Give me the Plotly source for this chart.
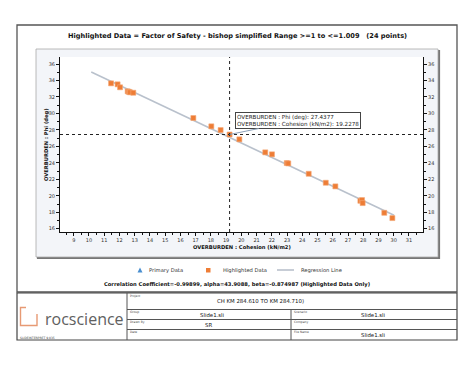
import plotly.graph_objects as go

# page body has an 8px default margin; the figure is sized to fit inside the window
OFF = 8
W, H = 474 - OFF, 366 - OFF

# ---- data ----
cohesion = [11.45, 11.88, 12.04, 12.54, 12.62, 12.69, 12.91, 16.85, 18.03, 18.64, 19.2278, 19.87,
            21.57, 22.01, 22.98, 23.08, 24.42, 25.54, 26.17, 27.81, 27.92, 27.96, 29.38, 29.91]
phi = [33.65, 33.53, 33.17, 32.68, 32.62, 32.56, 32.51, 29.44, 28.43, 27.98, 27.4377, 26.85,
       25.27, 25.03, 23.97, 23.93, 22.67, 21.58, 21.14, 19.39, 19.48, 19.11, 17.93, 17.29]
alpha, beta = 43.9088, -0.874987
reg_x = [10.15, 30.02]
sel_c, sel_phi = 19.2278, 27.4377
x_ticks = list(range(9, 32))
y_ticks = list(range(16, 37, 2))

title_txt = "Highlighted Data = Factor of Safety - bishop simplified Range >=1 to <=1.009   (24 points)"
corr_txt = "Correlation Coefficient=-0.99899, alpha=43.9088, beta=-0.874987 (Highlighted Data Only)"

FONT = "DejaVu Sans"

def px(x):
    return (x - OFF) / W

def py(y):
    return 1 - (y - OFF) / H

# plot area in window pixels
L, R, T, B = 60, 423, 57, 232

fig = go.Figure()

reg_y = [alpha + beta * v for v in reg_x]
fig.add_trace(go.Scatter(x=reg_x, y=reg_y, mode="lines",
                         line=dict(color="#b9c1cc", width=1.6), hoverinfo="skip", showlegend=False))
fig.add_trace(go.Scatter(x=cohesion, y=phi, mode="markers",
                         marker=dict(symbol="square", size=5, color="#ee7d36",
                                     line=dict(color="#f4a877", width=0.6)),
                         showlegend=False))
fig.add_trace(go.Scatter(x=[None], y=[None], yaxis="y2", showlegend=False))

shapes = []
shapes.append(dict(type="rect", xref="paper", yref="paper", x0=px(17), x1=px(457), y0=py(292), y1=py(25),
                   line=dict(color="#555555", width=1.3), fillcolor="white", layer="below"))
shapes.append(dict(type="rect", xref="paper", yref="paper", x0=px(37.5), x1=px(439.5), y0=py(258.5), y1=py(50.5),
                   line=dict(color="#777777", width=1.2), fillcolor="#777777", layer="below"))
shapes.append(dict(type="rect", xref="paper", yref="paper", x0=px(36), x1=px(438), y0=py(257), y1=py(49),
                   line=dict(color="#a8a8a8", width=0.8), fillcolor="#f3f5f9", layer="below"))
shapes.append(dict(type="rect", xref="paper", yref="paper", x0=px(L), x1=px(R), y0=py(B), y1=py(T),
                   line=dict(width=0), fillcolor="white", layer="below"))
shapes.append(dict(type="line", xref="x", yref="paper", x0=sel_c, x1=sel_c, y0=py(B), y1=py(T),
                   line=dict(color="#222222", width=1, dash="dot")))
shapes.append(dict(type="line", xref="paper", yref="y", x0=px(L), x1=px(R), y0=sel_phi, y1=sel_phi,
                   line=dict(color="#222222", width=1, dash="dot")))

# legend symbols
shapes.append(dict(type="path", xref="paper", yref="paper",
                   path=f"M {px(137.5)} {py(272.5)} L {px(142.5)} {py(272.5)} L {px(140)} {py(267.5)} Z",
                   fillcolor="#4a8fd0", line=dict(width=0)))
shapes.append(dict(type="rect", xref="paper", yref="paper", x0=px(206), x1=px(210.5), y0=py(272.5), y1=py(268),
                   fillcolor="#ee7d36", line=dict(width=0)))
shapes.append(dict(type="line", xref="paper", yref="paper", x0=px(277), x1=px(294), y0=py(270), y1=py(270),
                   line=dict(color="#b9c1cc", width=1.6)))

# footer table
tl = dict(color="#555555", width=1)
shapes.append(dict(type="rect", xref="paper", yref="paper", x0=px(17), x1=px(457), y0=py(340), y1=py(293),
                   line=dict(color="#444444", width=1.2)))
shapes.append(dict(type="line", xref="paper", yref="paper", x0=px(127), x1=px(127), y0=py(340), y1=py(293), line=tl))
shapes.append(dict(type="line", xref="paper", yref="paper", x0=px(291), x1=px(291), y0=py(340), y1=py(309.5), line=tl))
for yy in (309.5, 319.5, 329.5):
    shapes.append(dict(type="line", xref="paper", yref="paper", x0=px(127), x1=px(457), y0=py(yy), y1=py(yy), line=tl))
shapes.append(dict(type="path", xref="paper", yref="paper",
                   path=(f"M {px(26)} {py(307.5)} L {px(20.5)} {py(307.5)} L {px(20.5)} {py(325.5)} "
                         f"L {px(37)} {py(325.5)} L {px(37)} {py(314)}"),
                   line=dict(color="#e79a74", width=1.4)))

ann = []
def text(x, y, s, size, bold=False, color="#111111", xanchor="center", family=FONT, textangle=0):
    ann.append(dict(xref="paper", yref="paper", x=px(x), y=py(y), text=f"<b>{s}</b>" if bold else s,
                    showarrow=False, xanchor=xanchor, yanchor="middle", textangle=textangle,
                    font=dict(family=family, size=size, color=color)))

text(237, 36, title_txt, 6.6, bold=True)
text(242, 247, "OVERBURDEN : Cohesion (kN/m2)", 5.2, bold=True)
text(46, 145, "OVERBURDEN : Phi (deg)", 5.2, bold=True, textangle=-90)
text(147, 270, "Primary Data", 5.2, xanchor="left", color="#333333")
text(221, 270, "Highlighted Data", 5.2, xanchor="left", color="#333333")
text(299, 270, "Regression Line", 5.2, xanchor="left", color="#333333")
text(237, 284, corr_txt, 5.2, bold=True)
text(260, 301, "CH KM 284.610 TO KM 284.710)", 5.4)
text(212, 314.5, "Slide1.sli", 5.4)
text(208, 325, "SR", 5.4)
text(373, 314.5, "Slide1.sli", 5.4)
text(373, 334.5, "Slide1.sli", 5.4)
for (x, y, s) in [(128, 296, "Project"), (128, 312, "Group"), (128, 322, "Drawn By"), (128, 332, "Date"),
                  (292, 312, "Scenario"), (292, 322, "Company"), (292, 332, "File Name")]:
    text(x, y, s, 3, xanchor="left", color="#444444")
text(18, 337.5, "SLIDEINTERPRET 9.035", 3, xanchor="left", color="#444444")
text(43, 319, "rocscience", 16, xanchor="left", color="#606060", family="Open Sans")

ann.append(dict(xref="x", yref="y", x=sel_c, y=sel_phi,
                text="OVERBURDEN : Phi (deg): 27.4377<br>OVERBURDEN : Cohesion (kN/m2): 19.2278",
                showarrow=True, arrowhead=0, arrowcolor="#8aa0b8", arrowwidth=1,
                ax=68, ay=-14, align="left", bordercolor="#444444", borderwidth=1, borderpad=1,
                bgcolor="white", font=dict(family=FONT, size=5.6, color="#222222")))

axis_common = dict(showgrid=False, zeroline=False, showline=True, linecolor="#111111", linewidth=1,
                   ticks="outside", ticklen=3, tickcolor="#111111", tickwidth=1,
                   tickfont=dict(family=FONT, size=5, color="#333333"))

fig.update_layout(
    width=W, height=H, margin=dict(l=0, r=0, t=0, b=0),
    paper_bgcolor="white", plot_bgcolor="rgba(0,0,0,0)",
    showlegend=False,
    xaxis=dict(domain=[px(L), px(R)], range=[8.1, 31.92], tickvals=x_ticks,
               minor=dict(ticks="outside", ticklen=2, dtick=0.5, tick0=0, tickcolor="#111111"),
               **axis_common),
    yaxis=dict(domain=[py(B), py(T)], range=[15.6, 36.85], tickvals=y_ticks,
               minor=dict(ticks="outside", ticklen=2, dtick=1, tick0=0, tickcolor="#111111"),
               **axis_common),
    yaxis2=dict(overlaying="y", side="right", range=[15.6, 36.85], tickvals=y_ticks, anchor="x",
                minor=dict(ticks="outside", ticklen=2, dtick=1, tick0=0, tickcolor="#111111"),
                **axis_common),
    shapes=shapes, annotations=ann,
)

fig.write_html("out.html")
